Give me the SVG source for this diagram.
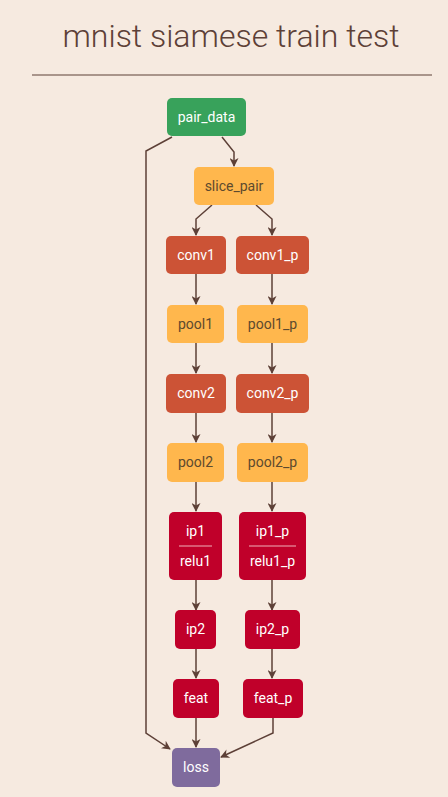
<svg xmlns="http://www.w3.org/2000/svg" width="448" height="797" viewBox="0 0 448 797">
<style>
.bg{fill:#f6eae0}
.title{font-family:Roboto,"Liberation Sans",sans-serif;font-weight:300;font-size:32px;fill:#5d4037}
.n rect{rx:5;ry:5}
.n text{font-family:Roboto,"Liberation Sans",sans-serif;font-size:14px;text-anchor:middle}
.data rect{fill:#38a25b}
.conv rect{fill:#cc5336}
.pool rect{fill:#ffb74d}
.ip rect{fill:#c0002a}
.loss rect{fill:#7f6b9d}
.lt{fill:#ffffff}
.dk{fill:#5d4a2e}
.e{fill:none;stroke:#5d4037;stroke-width:1.5}
</style>
<defs>
<marker id="arr" viewBox="0 0 10 10" refX="9" refY="5" markerWidth="10" markerHeight="9" markerUnits="userSpaceOnUse" orient="auto">
<path d="M0,0 L10,5 L0,10 L3,5 z" fill="#5d4037"/>
</marker>
</defs>
<rect class="bg" x="0" y="0" width="448" height="797"/>
<text class="title" x="231" y="47" text-anchor="middle">mnist siamese train test</text>
<line x1="32" y1="75" x2="432" y2="75" stroke="#5d4037" stroke-width="1.2"/>

<g id="edges">
<path class="e" d="M172,137 L146,151 L146,733 L170,749" marker-end="url(#arr)"/>
<path class="e" d="M222,137 L234,152 L234,166" marker-end="url(#arr)"/>
<path class="e" d="M212,205 L196,219 L196,235" marker-end="url(#arr)"/>
<path class="e" d="M256,205 L272,219 L272,235" marker-end="url(#arr)"/>
<path class="e" d="M196,274 L196,304" marker-end="url(#arr)"/>
<path class="e" d="M272,274 L272,304" marker-end="url(#arr)"/>
<path class="e" d="M196,343 L196,373" marker-end="url(#arr)"/>
<path class="e" d="M272,343 L272,373" marker-end="url(#arr)"/>
<path class="e" d="M196,413 L196,442" marker-end="url(#arr)"/>
<path class="e" d="M272,413 L272,442" marker-end="url(#arr)"/>
<path class="e" d="M196,482 L196,511" marker-end="url(#arr)"/>
<path class="e" d="M272,482 L272,511" marker-end="url(#arr)"/>
<path class="e" d="M196,580 L196,610" marker-end="url(#arr)"/>
<path class="e" d="M272,580 L272,610" marker-end="url(#arr)"/>
<path class="e" d="M196,649 L196,678" marker-end="url(#arr)"/>
<path class="e" d="M272,649 L272,678" marker-end="url(#arr)"/>
<path class="e" d="M196,718 L196,747" marker-end="url(#arr)"/>
<path class="e" d="M273,718 L273,733 L221,757" marker-end="url(#arr)"/>
</g>

<g id="pair_data" class="n data"><rect x="167" y="98" width="79" height="38"/><text class="lt" x="206.5" y="122">pair_data</text></g>
<g id="slice_pair" class="n pool"><rect x="194" y="167" width="80" height="38"/><text class="dk" x="234" y="191">slice_pair</text></g>
<g id="conv1" class="n conv"><rect x="166" y="236" width="60" height="38"/><text class="lt" x="196" y="260">conv1</text></g>
<g id="conv1_p" class="n conv"><rect x="236" y="236" width="73" height="38"/><text class="lt" x="272.5" y="260">conv1_p</text></g>
<g id="pool1" class="n pool"><rect x="167" y="305" width="57" height="38"/><text class="dk" x="195.5" y="329">pool1</text></g>
<g id="pool1_p" class="n pool"><rect x="237" y="305" width="71" height="38"/><text class="dk" x="272.5" y="329">pool1_p</text></g>
<g id="conv2" class="n conv"><rect x="166" y="374" width="60" height="39"/><text class="lt" x="196" y="398">conv2</text></g>
<g id="conv2_p" class="n conv"><rect x="236" y="374" width="73" height="39"/><text class="lt" x="272.5" y="398">conv2_p</text></g>
<g id="pool2" class="n pool"><rect x="167" y="443" width="57" height="39"/><text class="dk" x="195.5" y="467">pool2</text></g>
<g id="pool2_p" class="n pool"><rect x="237" y="443" width="71" height="39"/><text class="dk" x="272.5" y="467">pool2_p</text></g>
<g id="ip1" class="n ip"><rect x="169" y="512" width="53" height="68"/><text class="lt" x="195.5" y="536">ip1</text><line x1="179" y1="546" x2="212" y2="546" stroke="#f0b0b8" stroke-width="1"/><text class="lt" x="195.5" y="566">relu1</text></g>
<g id="ip1_p" class="n ip"><rect x="239" y="512" width="67" height="68"/><text class="lt" x="272.5" y="536">ip1_p</text><line x1="249" y1="546" x2="296" y2="546" stroke="#f0b0b8" stroke-width="1"/><text class="lt" x="272.5" y="566">relu1_p</text></g>
<g id="ip2" class="n ip"><rect x="175" y="610" width="41" height="39"/><text class="lt" x="195.5" y="634">ip2</text></g>
<g id="ip2_p" class="n ip"><rect x="245" y="610" width="55" height="39"/><text class="lt" x="272.5" y="634">ip2_p</text></g>
<g id="feat" class="n ip"><rect x="173" y="679" width="46" height="39"/><text class="lt" x="196" y="703">feat</text></g>
<g id="feat_p" class="n ip"><rect x="243" y="679" width="60" height="39"/><text class="lt" x="273" y="703">feat_p</text></g>
<g id="loss" class="n loss"><rect x="172" y="748" width="48" height="39"/><text class="lt" x="196" y="772">loss</text></g>
</svg>
